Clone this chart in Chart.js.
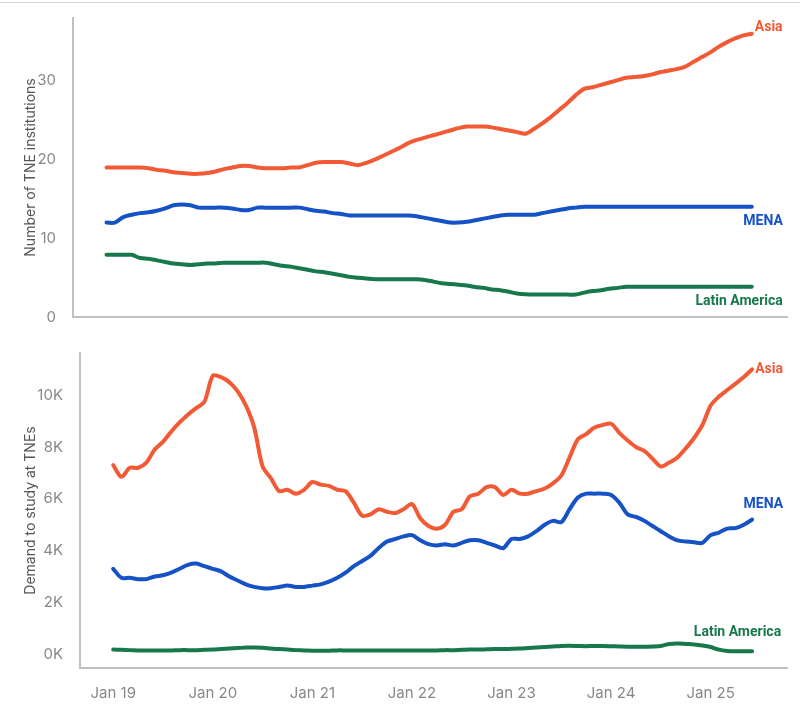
<!DOCTYPE html>
<html>
<head>
<meta charset="utf-8">
<script src="https://cdn.jsdelivr.net/npm/chart.js@4.4.1/dist/chart.umd.min.js"></script>
<style>
  body { margin: 0; background: #fff; }
  #wrap { position: relative; width: 800px; height: 707px; }
  #topRule { position: absolute; left: 0; top: 2px; width: 800px; border-top: 1px solid #d6d6d6; }
  #topChart { position: absolute; left: 0; top: 0; }
  #bottomChart { position: absolute; left: 0; top: 335px; }
</style>
</head>
<body>
<div id="wrap">
  <div id="topRule"></div>
  <canvas id="topChart" width="800" height="335"></canvas>
  <canvas id="bottomChart" width="800" height="372"></canvas>
</div>
<script>
// mois Jan 19 .. Jun 25
const monthNames = ["Jan", "Feb", "Mar", "Apr", "May", "Jun", "Jul", "Aug", "Sep", "Oct", "Nov", "Dec"];
const years = ["19", "20", "21", "22", "23", "24", "25"];
const months = [];
years.forEach((y) => monthNames.forEach((m) => months.push(m + " " + y)));
months.length = 78;

const xTicks = [0, 12, 24, 36, 48, 60, 72];
const instTicks = [0, 10, 20, 30];
const demandTicks = [0, 2000, 4000, 6000, 8000, 10000];

// Number of TNE institutions
const asiaInst = [
  19.0, 19.0, 19.0, 19.0, 19.0, 18.9, 18.7, 18.6, 18.4, 18.3, 18.2, 18.2,
  18.3, 18.5, 18.8, 19.0, 19.2, 19.2, 19.0, 18.9, 18.9, 18.9, 19.0, 19.0,
  19.3, 19.6, 19.7, 19.7, 19.7, 19.5, 19.3, 19.6, 20.0, 20.5, 21.0, 21.5,
  22.1, 22.5, 22.8, 23.1, 23.4, 23.7, 24.0, 24.2, 24.2, 24.2, 24.1, 23.9,
  23.7, 23.5, 23.3, 23.9, 24.6, 25.4, 26.3, 27.2, 28.2, 29.0, 29.2, 29.5,
  29.8, 30.1, 30.4, 30.5, 30.6, 30.8, 31.1, 31.3, 31.5, 31.8, 32.4, 33.0,
  33.6, 34.3, 34.9, 35.4, 35.8, 36.0
];
const menaInst = [
  12.0, 12.0, 12.7, 13.0, 13.2, 13.3, 13.5, 13.8, 14.2, 14.3, 14.2, 13.9,
  13.9, 13.9, 13.9, 13.8, 13.6, 13.6, 13.9, 13.9, 13.9, 13.9, 13.9, 13.9,
  13.7, 13.5, 13.4, 13.2, 13.1, 12.9, 12.9, 12.9, 12.9, 12.9, 12.9, 12.9,
  12.9, 12.8, 12.6, 12.4, 12.2, 12.0, 12.0, 12.1, 12.3, 12.5, 12.7, 12.9,
  13.0, 13.0, 13.0, 13.0, 13.2, 13.4, 13.6, 13.8, 13.9, 14.0, 14.0, 14.0,
  14.0, 14.0, 14.0, 14.0, 14.0, 14.0, 14.0, 14.0, 14.0, 14.0, 14.0, 14.0,
  14.0, 14.0, 14.0, 14.0, 14.0, 14.0
];
const latamInst = [
  7.9, 7.9, 7.9, 7.9, 7.5, 7.4, 7.2, 7.0, 6.8, 6.7, 6.6, 6.7,
  6.8, 6.8, 6.9, 6.9, 6.9, 6.9, 6.9, 6.9, 6.7, 6.5, 6.4, 6.2,
  6.0, 5.8, 5.7, 5.5, 5.3, 5.1, 5.0, 4.9, 4.8, 4.8, 4.8, 4.8,
  4.8, 4.8, 4.7, 4.5, 4.3, 4.2, 4.1, 4.0, 3.8, 3.7, 3.5, 3.4,
  3.2, 3.0, 2.9, 2.85, 2.85, 2.85, 2.85, 2.85, 2.85, 3.1, 3.3, 3.4,
  3.6, 3.7, 3.85, 3.85, 3.85, 3.85, 3.85, 3.85, 3.85, 3.85, 3.85, 3.85,
  3.85, 3.85, 3.85, 3.85, 3.85, 3.85
];

// Demand to study at TNEs
const asiaDemand = [
  7300, 6850, 7200, 7200, 7400, 7900, 8200, 8600, 8950, 9250, 9500, 9750,
  10750, 10700, 10500, 10150, 9600, 8750, 7250, 6800, 6300, 6350, 6200, 6350,
  6650, 6550, 6500, 6350, 6300, 5850, 5350, 5400, 5600, 5500, 5450, 5600,
  5800, 5250, 4950, 4850, 5000, 5500, 5600, 6100, 6200, 6450, 6450, 6150,
  6350, 6200, 6200, 6300, 6400, 6600, 6900, 7600, 8300, 8500, 8750, 8850,
  8900, 8550, 8250, 8000, 7850, 7550, 7250, 7400, 7600, 7950, 8350, 8850,
  9600, 9950, 10200, 10450, 10700, 11000
];
const menaDemand = [
  3300, 2950, 2950, 2900, 2900, 3000, 3050, 3150, 3300, 3450, 3500, 3400,
  3300, 3200, 3000, 2850, 2700, 2600, 2550, 2550, 2600, 2650, 2600, 2600,
  2650, 2700, 2800, 2950, 3150, 3400, 3600, 3800, 4100, 4350, 4450, 4550,
  4600, 4400, 4250, 4200, 4250, 4200, 4300, 4400, 4400, 4300, 4200, 4100,
  4450, 4450, 4550, 4750, 5000, 5150, 5100, 5600, 6050, 6200, 6200, 6200,
  6150, 5850, 5400, 5300, 5150, 4950, 4750, 4550, 4400, 4350, 4320, 4300,
  4600, 4700, 4850, 4870, 5000, 5200
];
const latamDemand = [
  180, 170, 160, 150, 150, 150, 150, 150, 160, 160, 160, 170,
  180, 200, 220, 240, 260, 260, 250, 220, 200, 180, 160, 150,
  140, 140, 140, 150, 150, 150, 150, 150, 150, 150, 150, 150,
  150, 150, 150, 150, 160, 160, 170, 180, 180, 190, 200, 200,
  210, 220, 240, 260, 280, 300, 320, 330, 320, 310, 320, 320,
  310, 300, 290, 290, 290, 300, 320, 400, 420, 400, 380, 340,
  280, 180, 130, 120, 120, 120
];

const ASIA = "#f25a35";
const MENA = "#1552c6";
const LATAM = "#17784b";
const AXIS = "#c0c0c0";
const FONT = "Inter";

// etiqueta al final de cada linea
const endLabels = {
    id: "endLabels",
    afterDatasetsDraw(chart) {
        const ctx = chart.ctx;
        chart.data.datasets.forEach((ds, i) => {
            const meta = chart.getDatasetMeta(i);
            const pt = meta.data[meta.data.length - 1];
            const lab = ds.endLabel;
            ctx.save();
            ctx.font = "bold 14px Roboto";
            ctx.fillStyle = ds.borderColor;
            ctx.textAlign = lab.align;
            ctx.textBaseline = "middle";
            ctx.fillText(ds.label, pt.x + lab.dx, pt.y + lab.dy);
            ctx.restore();
        });
    },
};

function series(label, values, color, endLabel) {
    return {
        label: label,
        data: values.map((v, i) => ({ x: i, y: v })),
        borderColor: color,
        backgroundColor: color,
        borderWidth: 4,
        pointRadius: 0,
        tension: 0.3,
        borderJoinStyle: "round",
        borderCapStyle: "round",
        endLabel: endLabel,
    };
}

function makeChart(id, datasets, cfg) {
    return new Chart(document.getElementById(id).getContext("2d"), {
        type: "line",
        data: { datasets: datasets },
        plugins: [endLabels],
        options: {
            responsive: false,
            animation: false,
            layout: { padding: { top: cfg.padTop, right: 13, left: 0, bottom: 0 } },
            plugins: { legend: { display: false }, tooltip: { enabled: false } },
            scales: {
                x: {
                    type: "linear",
                    min: -4,
                    max: 81.2,
                    grid: { display: false },
                    border: { display: true, color: AXIS, width: 2 },
                    afterBuildTicks: (s) => { s.ticks = xTicks.map((v) => ({ value: v })); },
                    afterFit: (s) => { s.height = cfg.xHeight; },
                    ticks: {
                        display: cfg.showX,
                        autoSkip: false,
                        maxRotation: 0,
                        padding: 8,
                        color: "#888",
                        font: { family: FONT, size: 15 },
                        callback: (v) => months[v],
                    },
                },
                y: {
                    min: cfg.yMin,
                    max: cfg.yMax,
                    grid: { display: false },
                    border: { display: true, color: AXIS, width: 2 },
                    afterBuildTicks: (s) => { s.ticks = cfg.yTicks.map((v) => ({ value: v })); },
                    afterFit: (s) => { s.width = cfg.yWidth; },
                    ticks: {
                        padding: 9,
                        color: "#888",
                        font: { family: FONT, size: 15 },
                        callback: cfg.yFormat,
                    },
                    title: {
                        display: true,
                        text: cfg.yTitle,
                        color: "#555",
                        font: { family: FONT, size: 14 },
                        padding: { top: 22, bottom: 0 },
                    },
                },
            },
        },
    });
}

makeChart("topChart", [
    series("Asia", asiaInst, ASIA, { dx: 3, dy: -6, align: "left" }),
    series("MENA", menaInst, MENA, { dx: 31, dy: 15, align: "right" }),
    series("Latin America", latamInst, LATAM, { dx: 31, dy: 15, align: "right" }),
], {
    padTop: 16, xHeight: 12, showX: false, yWidth: 73,
    yMin: 0, yMax: 38, yTicks: instTicks,
    yFormat: (v) => String(v),
    yTitle: "Number of TNE institutions",
});

makeChart("bottomChart", [
    series("Asia", asiaDemand, ASIA, { dx: 3, dy: 0, align: "left" }),
    series("MENA", menaDemand, MENA, { dx: 31, dy: -15, align: "right" }),
    series("Latin America", latamDemand, LATAM, { dx: 29, dy: -19, align: "right" }),
], {
    padTop: 12, xHeight: 39, showX: true, yWidth: 80,
    yMin: -530, yMax: 11630, yTicks: demandTicks,
    yFormat: (v) => v / 1000 + "K",
    yTitle: "Demand to study at TNEs",
});
</script>
</body>
</html>
